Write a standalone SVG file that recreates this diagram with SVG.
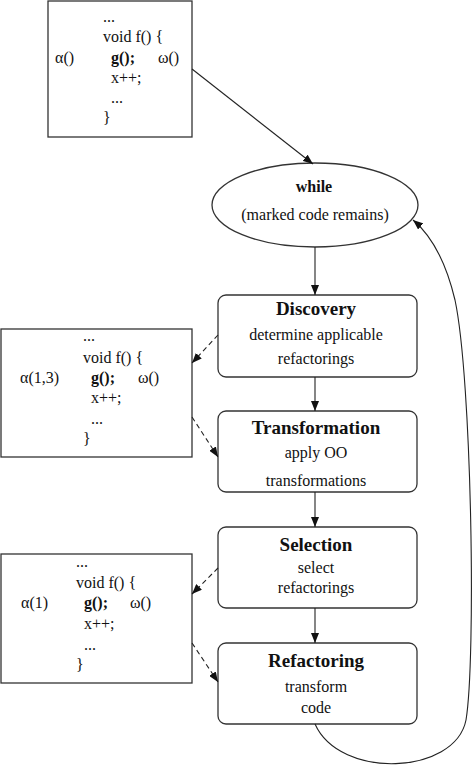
<svg xmlns="http://www.w3.org/2000/svg" width="474" height="769" viewBox="0 0 474 769">
<defs>
<marker id="ah" viewBox="0 0 10 8" refX="10" refY="4" markerWidth="10" markerHeight="8" markerUnits="userSpaceOnUse" orient="auto">
<path d="M0,0 L10,4 L0,8 Z" fill="#111"/>
</marker>
</defs>
<style>
text{font-family:"Liberation Serif","Times New Roman",serif;fill:#111}
.c{font-size:16px}
.b{font-weight:bold}
.t{font-size:19px;font-weight:bold;text-anchor:middle}
.m{font-size:16px;text-anchor:middle}
.box{fill:#fff;stroke:#333;stroke-width:1.3}
.edge{fill:none;stroke:#222;stroke-width:1.1;marker-end:url(#ah)}
.dash{stroke-dasharray:5,3.5}
</style>
<rect width="474" height="769" fill="#fff"/>
<g id="code-top">
<rect class="box" x="48" y="1" width="144" height="136"/>
<text class="c" x="103" y="22">...</text>
<text class="c" x="103" y="42">void f() {</text>
<text class="c" x="55" y="63">α()</text>
<text class="c b" x="111" y="63">g();</text>
<text class="c" x="158" y="63">ω()</text>
<text class="c" x="111" y="83">x++;</text>
<text class="c" x="111" y="103">...</text>
<text class="c" x="103" y="123">}</text>
</g>
<g id="while">
<ellipse class="box" cx="315" cy="205" rx="103" ry="42"/>
<text class="m b" x="314" y="192">while</text>
<text class="m" x="315" y="220">(marked code remains)</text>
</g>
<g id="discovery">
<rect class="box" x="218" y="295" width="199" height="82" rx="8"/>
<text class="t" x="316" y="315">Discovery</text>
<text class="m" x="316" y="340">determine applicable</text>
<text class="m" x="316" y="364">refactorings</text>
</g>
<g id="transformation">
<rect class="box" x="218" y="411" width="199" height="81" rx="8"/>
<text class="t" x="316" y="434">Transformation</text>
<text class="m" x="316" y="458">apply OO</text>
<text class="m" x="316" y="486">transformations</text>
</g>
<g id="selection">
<rect class="box" x="218" y="527" width="199" height="81" rx="8"/>
<text class="t" x="316" y="551">Selection</text>
<text class="m" x="316" y="573">select</text>
<text class="m" x="316" y="593">refactorings</text>
</g>
<g id="refactoring">
<rect class="box" x="218" y="643" width="199" height="81" rx="8"/>
<text class="t" x="316" y="667">Refactoring</text>
<text class="m" x="316" y="692">transform</text>
<text class="m" x="316" y="713">code</text>
</g>
<g id="code-mid">
<rect class="box" x="1" y="329" width="191" height="128"/>
<text class="c" x="83" y="341">...</text>
<text class="c" x="83" y="363">void f() {</text>
<text class="c" x="20" y="383">α(1,3)</text>
<text class="c b" x="91" y="383">g();</text>
<text class="c" x="138" y="383">ω()</text>
<text class="c" x="91" y="403">x++;</text>
<text class="c" x="91" y="424">...</text>
<text class="c" x="83" y="444">}</text>
</g>
<g id="code-bottom">
<rect class="box" x="1" y="554" width="191" height="129"/>
<text class="c" x="76" y="567">...</text>
<text class="c" x="76" y="588">void f() {</text>
<text class="c" x="21" y="608">α(1)</text>
<text class="c b" x="84" y="608">g();</text>
<text class="c" x="130" y="608">ω()</text>
<text class="c" x="84" y="629">x++;</text>
<text class="c" x="84" y="650">...</text>
<text class="c" x="76" y="670">}</text>
</g>
<g id="connectors">
<path class="edge" d="M192,69 L313,164"/>
<path class="edge" d="M315,247 L315,295"/>
<path class="edge" d="M315,377 L315,411"/>
<path class="edge" d="M315,492 L315,527"/>
<path class="edge" d="M315,608 L315,643"/>
<path class="edge dash" d="M218,335 L192,363"/>
<path class="edge dash" d="M192,417 L218,457"/>
<path class="edge dash" d="M218,568 L192,594"/>
<path class="edge dash" d="M192,643 L218,682"/>
<path class="edge" d="M315,724 C340,780 455,775 466,720 C476,660 472,380 455,300 C446,262 432,236 413,220"/>
</g>
</svg>
